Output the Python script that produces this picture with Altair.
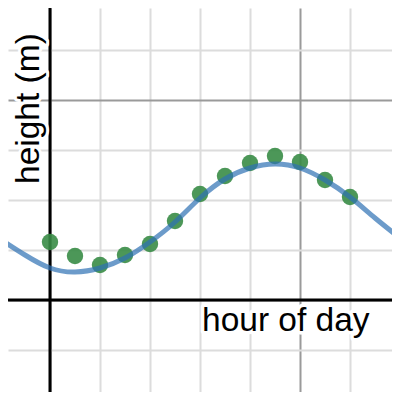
import altair as alt
import pandas as pd

# observed points (hour, height in m)
hours = [0, 1, 2, 3, 4, 5, 6, 7, 8, 9, 10, 11, 12]
heights = [0.58, 0.44, 0.35, 0.45, 0.56, 0.79, 1.06, 1.24, 1.37, 1.44, 1.38, 1.20, 1.03]

# fitted curve
model_hours = [-2, -1, 0, 1, 2, 3, 4, 5, 6, 7, 8, 9, 10, 11, 12, 13, 14]
model_heights = [0.61, 0.45, 0.32, 0.28, 0.32, 0.42, 0.58, 0.78, 1.02, 1.21,
                 1.32, 1.36, 1.32, 1.20, 1.03, 0.82, 0.62]

x_ticks = [0, 2, 4, 6, 8, 10, 12]
y_ticks = [-0.5, 0, 0.5, 1, 1.5, 2, 2.5]
zero_line = [0]

x_title = "hour of day"
y_title = "height (m)"

obs = pd.DataFrame({"hour": hours, "height": heights})
model = pd.DataFrame({"hour": model_hours, "height": model_heights})
zero = pd.DataFrame({"hour": zero_line, "height": zero_line})

xscale = alt.Scale(domain=[-1.68, 13.68], nice=False, zero=False)
yscale = alt.Scale(domain=[-0.92, 2.92], nice=False, zero=False)

xaxis = alt.Axis(
    values=x_ticks, labels=False, ticks=False, domain=False, title=None, grid=True,
    gridColor={"condition": {"test": "datum.value % 10 === 0", "value": "#9a9a9a"}, "value": "#dcdcdc"},
    gridWidth=2,
)
yaxis = alt.Axis(
    values=y_ticks, labels=False, ticks=False, domain=False, title=None, grid=True,
    gridColor={"condition": {"test": "datum.value % 2 === 0", "value": "#9a9a9a"}, "value": "#dcdcdc"},
    gridWidth=2,
)

X = alt.X("hour:Q", scale=xscale, axis=xaxis)
Y = alt.Y("height:Q", scale=yscale, axis=yaxis)

vrule = alt.Chart(zero).mark_rule(color="black", strokeWidth=3).encode(x=X)
hrule = alt.Chart(zero).mark_rule(color="black", strokeWidth=3).encode(y=Y)

points = alt.Chart(obs).mark_circle(size=270, color="#388c46", opacity=0.9).encode(x=X, y=Y)

curve = alt.Chart(model).mark_line(
    color="#2d70b3", strokeWidth=5, opacity=0.7, interpolate="natural", clip=True
).encode(x=X, y=Y)

font = "Liberation Sans"
fs = 33.5

xt_df = pd.DataFrame({"t": [x_title]})
yt_df = pd.DataFrame({"t": [y_title]})

x_halo = alt.Chart(xt_df).mark_text(
    font=font, fontSize=fs, align="left", baseline="alphabetic",
    color="white", stroke="white", strokeWidth=7, strokeJoin="round",
).encode(text="t:N", x=alt.value(194), y=alt.value(323))
x_text = alt.Chart(xt_df).mark_text(
    font=font, fontSize=fs, align="left", baseline="alphabetic", color="black",
).encode(text="t:N", x=alt.value(194), y=alt.value(323))

y_halo = alt.Chart(yt_df).mark_text(
    font=font, fontSize=fs, align="left", baseline="alphabetic", angle=270,
    color="white", stroke="white", strokeWidth=6, strokeJoin="round",
).encode(text="t:N", x=alt.value(30.5), y=alt.value(176))
y_text = alt.Chart(yt_df).mark_text(
    font=font, fontSize=fs, align="left", baseline="alphabetic", angle=270, color="black",
).encode(text="t:N", x=alt.value(30.5), y=alt.value(176))

chart = alt.layer(
    vrule, hrule, points, curve, x_halo, y_halo, x_text, y_text
).properties(
    width=384, height=384,
    autosize=alt.AutoSizeParams(type="none"),
    padding=0,
    background="white",
).configure_view(strokeWidth=0)

chart.save("out.html", embed_options={"renderer": "svg", "actions": False})
